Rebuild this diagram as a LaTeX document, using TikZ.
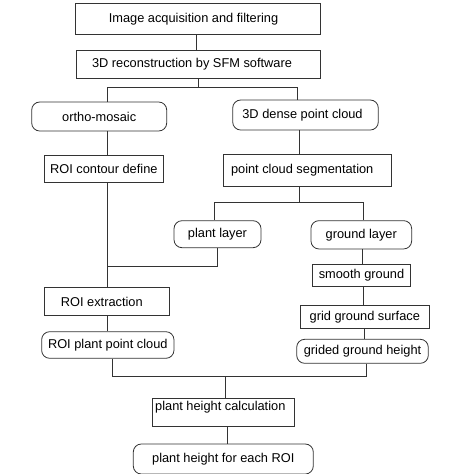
\documentclass[tikz,border=0pt]{standalone}
\usepackage{fontspec}
\setmainfont{Liberation Sans}
\usepackage{tikz}
\usetikzlibrary{positioning,calc}

\tikzset{
    flowbox/.style={draw=black!80, line width=0.8pt, inner sep=0pt, font=\fontsize{12.8}{15}\selectfont},
    roundbox/.style={flowbox, rounded corners=8pt},
    link/.style={draw=black!80, line width=0.8pt}
}

\begin{document}
\begin{tikzpicture}[x=1pt, y=-1pt]
    \useasboundingbox (0,0) rectangle (474,474);

    % top of the chain
    \node[flowbox, minimum width=245pt, minimum height=31pt] (acq) at (197.5,18.8) {Image acquisition and filtering\hspace*{8pt}};
    \node[flowbox, minimum width=244pt, minimum height=27.6pt] (sfm) at (198,64.5) {3D reconstruction by SFM software\hspace*{12pt}};

    % two products of the reconstruction
    \node[roundbox, minimum width=135pt, minimum height=29pt] (ortho) at (99.2,116.5) {ortho-mosaic};
    \node[roundbox, minimum width=145.6pt, minimum height=30pt] (dense) at (305.5,115) {3D dense point cloud\hspace*{6pt}};

    % left branch
    \node[flowbox, minimum width=119pt, minimum height=27.3pt] (contour) at (103.8,168.7) {ROI contour define};
    \node[flowbox, minimum width=125pt, minimum height=28pt] (extract) at (106.8,301.7) {ROI extraction\hspace*{10pt}};
    \node[roundbox, minimum width=132.3pt, minimum height=26.6pt] (roiplant) at (107.8,345) {ROI plant point cloud};

    % right branch
    \node[flowbox, minimum width=167.7pt, minimum height=32.7pt] (seg) at (307.2,170.3) {point cloud segmentation\hspace*{10pt}};
    \node[roundbox, minimum width=87pt, minimum height=27pt] (plant) at (217.5,234.2) {plant layer};
    \node[roundbox, minimum width=100.7pt, minimum height=28.3pt] (ground) at (361.3,234.8) {ground layer};
    \node[flowbox, minimum width=98.4pt, minimum height=22.7pt] (smooth) at (361.5,275.3) {smooth ground};
    \node[flowbox, minimum width=128.3pt, minimum height=23.7pt] (gridsurf) at (364.8,316.8) {grid ground surface};
    \node[roundbox, minimum width=131.6pt, minimum height=24pt] (gridheight) at (362.5,351.3) {grided ground height};

    % result
    \node[flowbox, minimum width=141.3pt, minimum height=28.4pt, text depth=14pt] (calc) at (223.3,412.5) {plant height calculation\hspace*{6pt}};
    \node[roundbox, minimum width=180pt, minimum height=30pt] (each) at (223.3,459) {plant height for each ROI};

    % junctions
    \coordinate (jsfm) at (198,87);
    \coordinate (jseg) at (299.3,202.3);
    \coordinate (jplant) at (107.7,266);
    \coordinate (jcalc) at (225.7,376);

    \draw[link] ([xshift=-1pt]acq.south) -- ([xshift=-1pt]acq.south |- sfm.north);
    \draw[link] (sfm.south) -- (jsfm);
    \draw[link] (jsfm) -| ([xshift=8.5pt]ortho.north);
    \draw[link] (jsfm) -| ([xshift=-7.8pt]dense.north);

    \draw[link] ([xshift=8.5pt]ortho.south) -- ([xshift=3.9pt]contour.north);
    \draw[link] ([xshift=3.9pt]contour.south) -- ([xshift=0.9pt]extract.north);
    \draw[link] (plant.south) |- (jplant);
    \draw[link] ([xshift=0.9pt]extract.south) -- ([xshift=-0.1pt]roiplant.north);

    \draw[link] ([xshift=-6.5pt]dense.south) -- ([xshift=-8.2pt]seg.north);
    \draw[link] ([xshift=-7.9pt]seg.south) -- (jseg);
    \draw[link] (jseg) -| ([xshift=-3.2pt]plant.north);
    \draw[link] (jseg) -| ([xshift=2.4pt]ground.north);
    \draw[link] ([xshift=0.7pt]ground.south) -- ([xshift=0.5pt]smooth.north);
    \draw[link] ([xshift=1.5pt]smooth.south) -- ([xshift=-1.8pt]gridsurf.north);
    \draw[link] ([xshift=-0.1pt]gridsurf.south) -- ([xshift=2.2pt]gridheight.north);

    \draw[link] ([xshift=4.5pt]roiplant.south) |- (jcalc);
    \draw[link] ([xshift=3.8pt]gridheight.south) |- (jcalc);
    \draw[link] (jcalc) -- (jcalc |- calc.north);
    \draw[link] ([xshift=4.4pt]calc.south) -- ([xshift=4.4pt]each.north);
\end{tikzpicture}
\end{document}
